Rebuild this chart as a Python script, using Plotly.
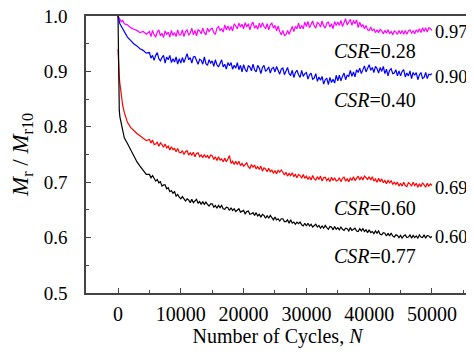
import plotly.graph_objects as go

# Cycle grid: dense early points, then every 250 cycles
n_early_black = [0, 50, 100, 200, 300, 500, 750, 1000, 1500, 2000, 2500, 3000, 3500, 4000, 4500]
n_early = [0, 100, 200, 300, 500, 750, 1000, 1500, 2000, 2500, 3000, 3500, 4000, 4500]
n_main = list(range(5000, 50001, 250))

black_early = [1.000, 0.900, 0.860, 0.830, 0.818, 0.806, 0.795, 0.780, 0.770, 0.758, 0.747, 0.737, 0.729, 0.722, 0.714]
black_main = [
    0.714, 0.708, 0.712, 0.706, 0.702, 0.705, 0.699, 0.701, 0.693, 0.695, 0.695, 0.688, 0.690, 0.683, 0.685, 0.680, 0.683, 0.675, 0.678, 0.673,
    0.670, 0.674, 0.669, 0.666, 0.670, 0.668, 0.663, 0.669, 0.663, 0.667, 0.669, 0.662, 0.665, 0.660, 0.665, 0.660, 0.664, 0.660, 0.657, 0.661,
    0.661, 0.655, 0.658, 0.653, 0.658, 0.654, 0.658, 0.652, 0.651, 0.655, 0.654, 0.649, 0.654, 0.649, 0.652, 0.647, 0.650, 0.652, 0.646, 0.647,
    0.649, 0.643, 0.647, 0.648, 0.642, 0.643, 0.645, 0.640, 0.645, 0.639, 0.642, 0.637, 0.642, 0.640, 0.635, 0.640, 0.635, 0.640, 0.635, 0.632,
    0.637, 0.632, 0.634, 0.630, 0.634, 0.634, 0.629, 0.629, 0.632, 0.626, 0.632, 0.626, 0.628, 0.624, 0.628, 0.625, 0.628, 0.623, 0.621, 0.626,
    0.621, 0.626, 0.621, 0.624, 0.619, 0.622, 0.624, 0.619, 0.622, 0.617, 0.621, 0.617, 0.622, 0.618, 0.615, 0.620, 0.619, 0.614, 0.620, 0.615,
    0.618, 0.614, 0.619, 0.615, 0.613, 0.617, 0.616, 0.612, 0.618, 0.613, 0.615, 0.617, 0.612, 0.611, 0.616, 0.612, 0.616, 0.611, 0.614, 0.609,
    0.614, 0.609, 0.611, 0.607, 0.612, 0.608, 0.612, 0.606, 0.605, 0.609, 0.608, 0.603, 0.608, 0.603, 0.608, 0.603, 0.601, 0.605, 0.604, 0.600,
    0.604, 0.599, 0.603, 0.605, 0.600, 0.601, 0.605, 0.599, 0.604, 0.600, 0.603, 0.599, 0.605, 0.601, 0.600, 0.605, 0.599, 0.604, 0.603, 0.600,
    0.602]

red_early = [0.940, 0.905, 0.890, 0.878, 0.855, 0.838, 0.826, 0.808, 0.799, 0.793, 0.788, 0.784, 0.779, 0.775]
red_main = [
    0.777, 0.771, 0.776, 0.768, 0.769, 0.772, 0.765, 0.771, 0.768, 0.763, 0.769, 0.762, 0.765, 0.758, 0.764, 0.759, 0.761, 0.755, 0.761, 0.754,
    0.753, 0.757, 0.750, 0.755, 0.757, 0.749, 0.753, 0.749, 0.754, 0.746, 0.752, 0.753, 0.746, 0.749, 0.744, 0.750, 0.745, 0.748, 0.743, 0.749,
    0.748, 0.741, 0.746, 0.739, 0.746, 0.740, 0.742, 0.737, 0.743, 0.737, 0.742, 0.748, 0.734, 0.738, 0.732, 0.738, 0.732, 0.738, 0.730, 0.734,
    0.729, 0.733, 0.735, 0.728, 0.725, 0.732, 0.727, 0.731, 0.724, 0.728, 0.723, 0.729, 0.720, 0.726, 0.724, 0.719, 0.725, 0.719, 0.722, 0.716,
    0.721, 0.715, 0.722, 0.718, 0.722, 0.718, 0.713, 0.718, 0.711, 0.716, 0.712, 0.717, 0.710, 0.714, 0.708, 0.714, 0.712, 0.707, 0.714, 0.707,
    0.711, 0.705, 0.710, 0.704, 0.712, 0.706, 0.704, 0.710, 0.705, 0.711, 0.702, 0.708, 0.709, 0.703, 0.707, 0.701, 0.709, 0.703, 0.708, 0.702,
    0.703, 0.708, 0.701, 0.707, 0.709, 0.702, 0.706, 0.701, 0.708, 0.703, 0.710, 0.703, 0.708, 0.711, 0.704, 0.710, 0.704, 0.711, 0.708, 0.705,
    0.710, 0.704, 0.710, 0.702, 0.706, 0.700, 0.707, 0.701, 0.706, 0.699, 0.703, 0.697, 0.703, 0.699, 0.703, 0.696, 0.700, 0.696, 0.700, 0.693,
    0.698, 0.693, 0.700, 0.694, 0.692, 0.699, 0.697, 0.693, 0.700, 0.694, 0.698, 0.691, 0.697, 0.692, 0.699, 0.694, 0.691, 0.698, 0.693, 0.697,
    0.694]

blue_early = [1.000, 0.995, 0.990, 0.986, 0.982, 0.977, 0.970, 0.962, 0.956, 0.950, 0.946, 0.941, 0.938, 0.933]
blue_main = [
    0.934, 0.924, 0.929, 0.920, 0.929, 0.934, 0.923, 0.919, 0.925, 0.929, 0.915, 0.926, 0.921, 0.929, 0.916, 0.923, 0.917, 0.926, 0.913, 0.923,
    0.915, 0.925, 0.916, 0.926, 0.932, 0.921, 0.925, 0.915, 0.926, 0.927, 0.918, 0.913, 0.922, 0.920, 0.913, 0.926, 0.914, 0.911, 0.921, 0.915,
    0.919, 0.909, 0.921, 0.912, 0.908, 0.916, 0.921, 0.908, 0.913, 0.904, 0.916, 0.910, 0.916, 0.904, 0.911, 0.906, 0.916, 0.903, 0.911, 0.899,
    0.912, 0.904, 0.899, 0.910, 0.908, 0.901, 0.913, 0.903, 0.899, 0.911, 0.906, 0.896, 0.907, 0.911, 0.900, 0.903, 0.908, 0.897, 0.905, 0.907,
    0.899, 0.909, 0.901, 0.895, 0.904, 0.906, 0.894, 0.902, 0.907, 0.896, 0.893, 0.902, 0.889, 0.898, 0.902, 0.894, 0.889, 0.902, 0.891, 0.896,
    0.898, 0.886, 0.894, 0.897, 0.886, 0.888, 0.896, 0.882, 0.890, 0.884, 0.891, 0.877, 0.885, 0.888, 0.876, 0.889, 0.880, 0.886, 0.879, 0.893,
    0.883, 0.893, 0.883, 0.891, 0.897, 0.885, 0.893, 0.891, 0.902, 0.891, 0.899, 0.890, 0.903, 0.898, 0.906, 0.896, 0.904, 0.910, 0.899, 0.907,
    0.912, 0.902, 0.907, 0.898, 0.909, 0.905, 0.897, 0.907, 0.900, 0.909, 0.896, 0.904, 0.892, 0.902, 0.905, 0.896, 0.897, 0.903, 0.892, 0.901,
    0.892, 0.900, 0.903, 0.890, 0.897, 0.892, 0.901, 0.887, 0.898, 0.893, 0.898, 0.885, 0.894, 0.898, 0.887, 0.889, 0.898, 0.887, 0.895, 0.894,
    0.896]

magenta_early = [1.000, 0.998, 0.995, 0.993, 0.990, 0.992, 0.986, 0.984, 0.979, 0.976, 0.974, 0.970, 0.972, 0.967]
magenta_main = [
    0.972, 0.963, 0.974, 0.966, 0.962, 0.971, 0.975, 0.964, 0.969, 0.961, 0.973, 0.967, 0.971, 0.962, 0.974, 0.965, 0.970, 0.963, 0.975, 0.966,
    0.966, 0.975, 0.963, 0.972, 0.975, 0.966, 0.969, 0.978, 0.966, 0.974, 0.964, 0.975, 0.973, 0.968, 0.978, 0.970, 0.966, 0.978, 0.972, 0.976,
    0.978, 0.970, 0.967, 0.978, 0.981, 0.974, 0.977, 0.971, 0.984, 0.975, 0.982, 0.974, 0.981, 0.973, 0.986, 0.982, 0.977, 0.987, 0.980, 0.985,
    0.977, 0.988, 0.980, 0.986, 0.975, 0.985, 0.989, 0.978, 0.983, 0.976, 0.987, 0.979, 0.988, 0.981, 0.977, 0.986, 0.975, 0.984, 0.987, 0.978,
    0.983, 0.973, 0.982, 0.972, 0.966, 0.974, 0.965, 0.966, 0.974, 0.967, 0.975, 0.981, 0.972, 0.981, 0.977, 0.987, 0.977, 0.983, 0.977, 0.989,
    0.981, 0.990, 0.979, 0.987, 0.991, 0.982, 0.978, 0.989, 0.986, 0.980, 0.991, 0.982, 0.978, 0.987, 0.989, 0.980, 0.986, 0.977, 0.990, 0.983,
    0.989, 0.983, 0.992, 0.981, 0.989, 0.995, 0.984, 0.990, 0.994, 0.983, 0.992, 0.986, 0.993, 0.979, 0.989, 0.981, 0.984, 0.977, 0.983, 0.975,
    0.974, 0.980, 0.973, 0.977, 0.970, 0.975, 0.970, 0.976, 0.973, 0.968, 0.974, 0.969, 0.975, 0.968, 0.972, 0.966, 0.973, 0.971, 0.967, 0.974,
    0.968, 0.974, 0.967, 0.974, 0.967, 0.973, 0.975, 0.969, 0.973, 0.968, 0.975, 0.971, 0.977, 0.970, 0.979, 0.972, 0.979, 0.971, 0.979, 0.977,
    0.974]

end_labels = ["0.97", "0.90", "0.69", "0.60"]
end_label_y = [0.972, 0.889, 0.690, 0.601]
csr_labels = ["0.28", "0.40", "0.60", "0.77"]
csr_label_y = [0.936, 0.849, 0.653, 0.567]

x_ticks = [0, 10000, 20000, 30000, 40000, 50000]
y_ticks = [0.5, 0.6, 0.7, 0.8, 0.9, 1.0]

FONT = "Liberation Serif, Times New Roman, Times, serif"

series = [
    (n_early + n_main, magenta_early + magenta_main, "#FF00FF"),
    (n_early + n_main, blue_early + blue_main, "#0000FF"),
    (n_early + n_main, red_early + red_main, "#FF0000"),
    (n_early_black + n_main, black_early + black_main, "#000000"),
]

fig = go.Figure()
for xs, ys, col in series:
    fig.add_trace(go.Scatter(x=xs, y=ys, mode="lines",
                             line=dict(color=col, width=1.2),
                             showlegend=False, cliponaxis=False))

for txt, yv in zip(end_labels, end_label_y):
    fig.add_annotation(x=50150, y=yv, xref="x", yref="y", text=txt,
                       showarrow=False, xanchor="left", yanchor="middle",
                       font=dict(family=FONT, size=18.5, color="black"))
for txt, yv in zip(csr_labels, csr_label_y):
    fig.add_annotation(x=41000, y=yv, xref="x", yref="y",
                       text="<i>CSR</i>=" + txt,
                       showarrow=False, xanchor="center", yanchor="middle",
                       font=dict(family=FONT, size=20, color="black"))

# page body adds an 8px offset, so the figure is sized 8px smaller
fig.update_layout(
    width=466, height=355,
    margin=dict(l=78, r=5, t=8, b=70),
    paper_bgcolor="white", plot_bgcolor="white",
    font=dict(family=FONT, size=20, color="black"),
)
fig.update_xaxes(
    automargin=False,
    range=[-5100, 55900], tickvals=x_ticks, ticktext=[str(v) for v in x_ticks],
    ticks="inside", ticklen=5, tickcolor="#444", tickwidth=1,
    minor=dict(dtick=5000, tick0=0, ticks="inside", ticklen=3, tickcolor="#444"),
    showline=True, linecolor="#444", linewidth=1.5, mirror=True,
    showgrid=False, zeroline=False,
    tickfont=dict(family=FONT, size=20),
    ticklabeloverflow="allow",
    title=dict(text="Number of Cycles, <i>N</i>", font=dict(family=FONT, size=20), standoff=2),
    ticklabelstandoff=2,
)
fig.update_yaxes(
    automargin=False,
    range=[0.5, 1.0], tickvals=y_ticks, ticktext=["%.1f" % v for v in y_ticks],
    ticks="inside", ticklen=5, tickcolor="#444", tickwidth=1,
    minor=dict(dtick=0.05, tick0=0.5, ticks="inside", ticklen=3, tickcolor="#444"),
    showline=True, linecolor="#444", linewidth=1.5, mirror=True,
    showgrid=False, zeroline=False,
    tickfont=dict(family=FONT, size=19),
    ticklabeloverflow="allow",
    title=dict(text="<i>M</i><sub>r</sub> / <i>M</i><sub>r10</sub>",
               font=dict(family=FONT, size=23), standoff=19),
    ticklabelstandoff=13,
)

fig.write_html("out.html")
